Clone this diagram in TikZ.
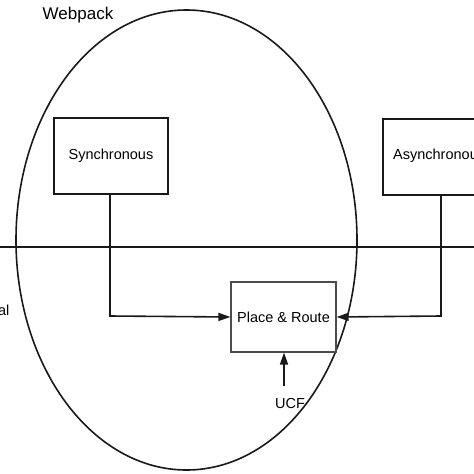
\documentclass[tikz,border=0pt]{standalone}
\usepackage{fontspec}
\setmainfont{Liberation Sans}
\usetikzlibrary{arrows.meta,shapes.geometric}
\begin{document}
\begin{tikzpicture}[x=1pt,y=-1pt,
  line/.style={line width=1.6pt,black!90},
  boxnode/.style={draw=black!90,line width=1.6pt,inner sep=0pt,font=\fontsize{14.5}{16}\selectfont},
  lbl/.style={inner sep=0pt,font=\fontsize{14.5}{16}\selectfont},
  arr/.style={-{Triangle[length=12pt,width=8pt]}}]
\useasboundingbox (0,0) rectangle (474,474);
\clip (0,0) rectangle (474,474);
\node[draw=black!90,ellipse,line width=1.6pt,minimum width=341pt,minimum height=460pt,inner sep=0pt] (wp) at (186.5,240) {};
\node[lbl,font=\fontsize{17}{19}\selectfont] (wpl) at (78,15) {Webpack};
\coordinate (hl) at (0,247);
\coordinate (hr) at (474,247);
\draw[line] (hl) -- (hr);
\node[boxnode,minimum width=114pt,minimum height=76pt] (sync) at (111,156) {Synchronous};
\node[boxnode,minimum width=130pt,minimum height=76pt,anchor=north west] (async) at (382,118) {};
\node[lbl,anchor=west] (asynct) at (393,156) {Asynchronous};
\node[boxnode,draw=black!70,line width=1.2pt,minimum width=105pt,minimum height=70pt] (pr) at (283.5,317) {Place \& Route};
\node[lbl] (ucf) at (290,404) {UCF};
\node[lbl,anchor=east] (al) at (9.5,310) {al};
\coordinate (sd) at (110,316);
\coordinate (ad) at (441,316);
\coordinate (ua) at (284,386);
\draw[line,arr] (sync.south -| sd) -- (sd) -- (pr.west);
\draw[line,arr] (async.south -| ad) -- (ad) -- (pr.east);
\draw[line,arr] (ua) -- (pr.south -| ua);
\end{tikzpicture}
\end{document}
